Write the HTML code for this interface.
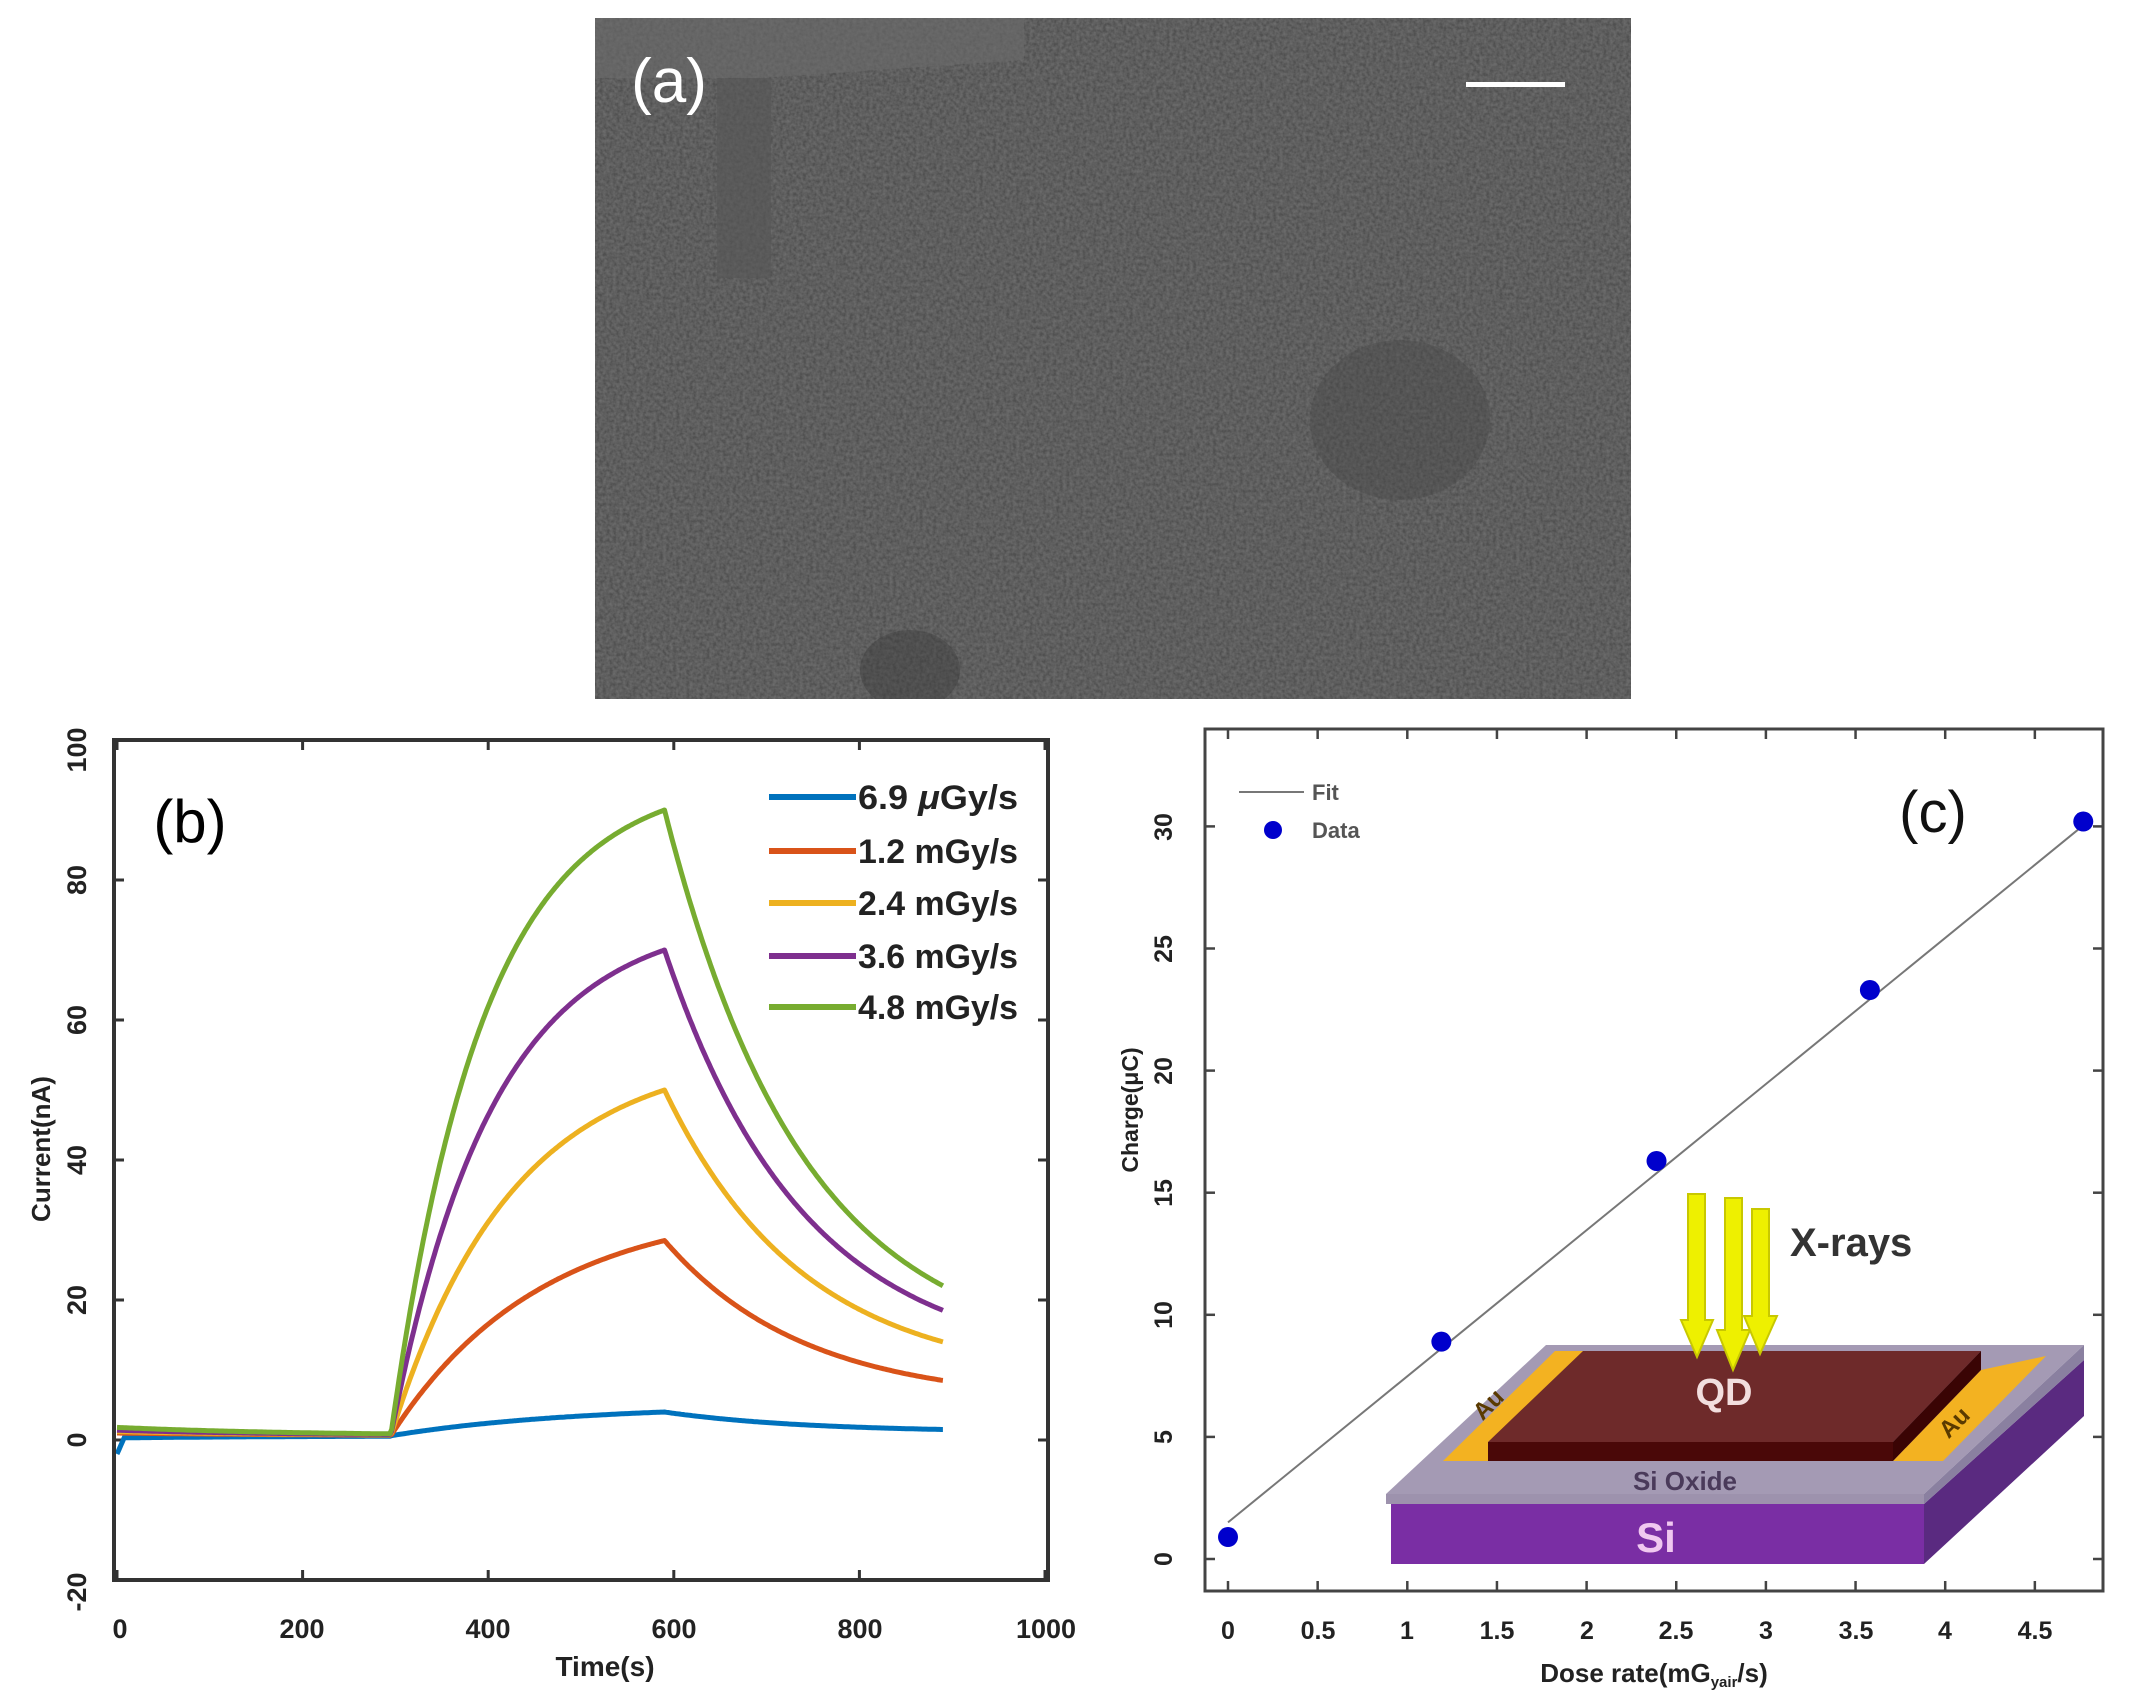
<!DOCTYPE html>
<html><head><meta charset="utf-8"><style>
html,body{margin:0;padding:0;background:#fff;}
svg{display:block;}
text{font-family:"Liberation Sans",sans-serif;}
</style></head><body>
<svg id="s" width="2132" height="1705" viewBox="0 0 2132 1705" xmlns="http://www.w3.org/2000/svg">
<defs>
<filter id="sem" x="0" y="0" width="100%" height="100%">
<feTurbulence type="fractalNoise" baseFrequency="0.3" numOctaves="2" seed="3" result="n"/>
<feColorMatrix in="n" type="matrix" values="0 0 0 0 0.33  0 0 0 0 0.33  0 0 0 0 0.33  0.9 0 0 0 -0.2" result="c"/>
<feComposite in="c" in2="SourceGraphic" operator="over"/>
</filter>
<clipPath id="ca"><rect x="595" y="18" width="1036" height="681"/></clipPath>
</defs>
<!-- panel a -->
<g clip-path="url(#ca)">
<rect x="595" y="18" width="1036" height="681" fill="#4d4d4d"/>
<rect x="595" y="18" width="1036" height="681" fill="#525252" filter="url(#sem)" opacity="0.6"/>
<polygon points="595,18 1024,18 1024,60 760,78 595,78" fill="#6a6a6a" opacity="0.6"/>
<rect x="717" y="78" width="54" height="200" fill="#575757" opacity="0.6"/>
<ellipse cx="1400" cy="420" rx="90" ry="80" fill="#454545" opacity="0.35"/>
<ellipse cx="910" cy="670" rx="50" ry="40" fill="#3a3a3a" opacity="0.4"/>
</g>
<text x="669" y="102" font-size="62" fill="#fff" text-anchor="middle">(a)</text>
<rect x="1466" y="82" width="99" height="5" fill="#fff"/>

<!-- panel b -->
<g id="pb"></g>
<rect x="114" y="740" width="934" height="840" fill="none" stroke="#333" stroke-width="4"/>
<text x="190" y="842" font-size="60" text-anchor="middle">(b)</text>
<g font-weight="bold" font-size="27" fill="#222">
<text transform="translate(86,750) rotate(-90)" text-anchor="middle">100</text>
<text transform="translate(86,880) rotate(-90)" text-anchor="middle">80</text>
<text transform="translate(86,1020) rotate(-90)" text-anchor="middle">60</text>
<text transform="translate(86,1160) rotate(-90)" text-anchor="middle">40</text>
<text transform="translate(86,1300) rotate(-90)" text-anchor="middle">20</text>
<text transform="translate(86,1440) rotate(-90)" text-anchor="middle">0</text>
<text transform="translate(86,1592) rotate(-90)" text-anchor="middle">-20</text>
<text x="120" y="1638" text-anchor="middle">0</text>
<text x="302" y="1638" text-anchor="middle">200</text>
<text x="488" y="1638" text-anchor="middle">400</text>
<text x="674" y="1638" text-anchor="middle">600</text>
<text x="860" y="1638" text-anchor="middle">800</text>
<text x="1046" y="1638" text-anchor="middle">1000</text>
<text x="605" y="1676" text-anchor="middle" font-size="28">Time(s)</text>
<text transform="translate(50,1149) rotate(-90)" text-anchor="middle" font-size="26">Current(nA)</text>
</g>
<g font-weight="bold" font-size="34" fill="#222" stroke-width="6">
<line x1="769" y1="797" x2="856" y2="797" stroke="#0072BD"/><text x="858" y="809" textLength="160" lengthAdjust="spacingAndGlyphs">6.9 <tspan font-style="italic">μ</tspan>Gy/s</text>
<line x1="769" y1="851" x2="856" y2="851" stroke="#D95319"/><text x="858" y="863" textLength="160" lengthAdjust="spacingAndGlyphs">1.2 mGy/s</text>
<line x1="769" y1="903" x2="856" y2="903" stroke="#EDB120"/><text x="858" y="915" textLength="160" lengthAdjust="spacingAndGlyphs">2.4 mGy/s</text>
<line x1="769" y1="956" x2="856" y2="956" stroke="#7E2F8E"/><text x="858" y="968" textLength="160" lengthAdjust="spacingAndGlyphs">3.6 mGy/s</text>
<line x1="769" y1="1007" x2="856" y2="1007" stroke="#77AC30"/><text x="858" y="1019" textLength="160" lengthAdjust="spacingAndGlyphs">4.8 mGy/s</text>
</g>

<!-- panel c -->
<rect x="1205" y="729" width="898" height="862" fill="none" stroke="#444" stroke-width="3"/>
<g id="pc"></g>
<!-- inset -->
<polygon points="1924,1504 2084,1360 2084,1416 1924,1564" fill="#5a2a80"/>
<polygon points="1386,1494 1546,1345 2084,1345 1924,1494" fill="#a49ab4"/>
<rect x="1386" y="1494" width="538" height="10" fill="#9d92ad"/>
<polygon points="1924,1494 2084,1345 2084,1360 1924,1504" fill="#8a80a0"/>
<rect x="1391" y="1504" width="533" height="60" fill="#7a2ea4"/>
<polygon points="1443,1461 1555,1351 1595,1351 1488,1461" fill="#f3b221"/>
<polygon points="1893,1461 1981,1370 2046,1356 1943,1461" fill="#f3b221"/>
<polygon points="1488,1442 1583,1351 1981,1351 1893,1442" fill="#6e2a2a"/>
<rect x="1488" y="1442" width="405" height="19" fill="#4a0808"/>
<polygon points="1893,1442 1981,1351 1981,1370 1893,1461" fill="#3a0404"/>
<g fill="#eef000" stroke="#c8c800" stroke-width="2">
<polygon points="1688,1194 1705,1194 1705,1320 1713,1320 1697,1357 1681,1320 1688,1320"/>
<polygon points="1725,1198 1742,1198 1742,1330 1750,1330 1733,1370 1717,1330 1725,1330"/>
<polygon points="1752,1209 1769,1209 1769,1316 1777,1316 1760,1354 1744,1316 1752,1316"/>
</g>
<g font-weight="bold">
<text x="1790" y="1256" font-size="40" fill="#333">X-rays</text>
<text x="1724" y="1405" font-size="38" fill="#f2dede" text-anchor="middle">QD</text>
<text x="1685" y="1490" font-size="26" fill="#4a3a5a" text-anchor="middle">Si Oxide</text>
<text x="1656" y="1552" font-size="42" fill="#f0c8f0" text-anchor="middle">Si</text>
<text transform="translate(1494,1410) rotate(-45)" font-size="24" fill="#5a3a00" text-anchor="middle">Au</text>
<text transform="translate(1960,1428) rotate(-45)" font-size="24" fill="#5a3a00" text-anchor="middle">Au</text>
</g>
<line x1="1239" y1="792" x2="1304" y2="792" stroke="#777" stroke-width="2"/>
<text x="1312" y="800" font-size="22" font-weight="bold" fill="#555">Fit</text>
<circle cx="1273" cy="830" r="9" fill="#0000cc"/>
<text x="1312" y="838" font-size="22" font-weight="bold" fill="#555">Data</text>
<text x="1933" y="832" font-size="58" text-anchor="middle" fill="#111">(c)</text>
<g font-weight="bold" font-size="25" fill="#222">
<text transform="translate(1172,1559) rotate(-90)" text-anchor="middle">0</text>
<text transform="translate(1172,1437) rotate(-90)" text-anchor="middle">5</text>
<text transform="translate(1172,1315) rotate(-90)" text-anchor="middle">10</text>
<text transform="translate(1172,1193) rotate(-90)" text-anchor="middle">15</text>
<text transform="translate(1172,1071) rotate(-90)" text-anchor="middle">20</text>
<text transform="translate(1172,949) rotate(-90)" text-anchor="middle">25</text>
<text transform="translate(1172,827) rotate(-90)" text-anchor="middle">30</text>
<text transform="translate(1138,1110) rotate(-90)" text-anchor="middle" font-size="23">Charge(μC)</text>
<text x="1228" y="1639" text-anchor="middle">0</text>
<text x="1318" y="1639" text-anchor="middle">0.5</text>
<text x="1407" y="1639" text-anchor="middle">1</text>
<text x="1497" y="1639" text-anchor="middle">1.5</text>
<text x="1587" y="1639" text-anchor="middle">2</text>
<text x="1676" y="1639" text-anchor="middle">2.5</text>
<text x="1766" y="1639" text-anchor="middle">3</text>
<text x="1856" y="1639" text-anchor="middle">3.5</text>
<text x="1945" y="1639" text-anchor="middle">4</text>
<text x="2035" y="1639" text-anchor="middle">4.5</text>
<text x="1654" y="1682" text-anchor="middle" font-size="26">Dose rate(mG<tspan font-size="15" dy="5">yair</tspan><tspan dy="-5">/s)</tspan></text>
</g>
</svg>
<script>
(function(){
var NS="http://www.w3.org/2000/svg";
function el(p,t,a){var e=document.createElementNS(NS,t);for(var k in a)e.setAttribute(k,a[k]);p.appendChild(e);return e;}
var pb=document.getElementById('pb'),pc=document.getElementById('pc');
function X(t){return 117+0.928*t;} function Y(v){return 1440-7*v;}
for(var t=0;t<=1000;t+=200){var x=X(t);el(pb,'line',{x1:x,y1:1580,x2:x,y2:1570,stroke:'#333','stroke-width':3});el(pb,'line',{x1:x,y1:740,x2:x,y2:750,stroke:'#333','stroke-width':3});}
for(var v=-20;v<=100;v+=20){var y=Y(v);el(pb,'line',{x1:114,y1:y,x2:124,y2:y,stroke:'#333','stroke-width':3});el(pb,'line',{x1:1048,y1:y,x2:1038,y2:y,stroke:'#333','stroke-width':3});}
var S=[["#0072BD",4,200,1.5,0.3],["#D95319",28.5,160,8.5,1.0],["#EDB120",50,130,14,1.2],["#7E2F8E",70,110,18.5,1.4],["#77AC30",90,100,22,1.8]];
S.forEach(function(s){
 var P=s[1],tau=s[2],E=s[3],b0=s[4];var F=(E-P*0.135)/0.865;
 var A=(P-0.6)/(1-Math.exp(-295/tau));var d="";
 for(var t=0;t<=890;t+=2){var v;
  if(t<295){v=0.6+(b0-0.6)*Math.exp(-t/200); if(s[0]=="#0072BD"&&t<10)v=-2+t*0.3;}
  else if(t<=590){v=0.6+A*(1-Math.exp(-(t-295)/tau));}
  else v=F+(P-F)*Math.exp(-(t-590)/150);
  d+=(d?"L":"M")+X(t).toFixed(1)+","+Y(v).toFixed(1);}
 el(pb,'path',{d:d,fill:'none',stroke:s[0],'stroke-width':5,'stroke-linejoin':'round'});
});
function CX(d){return 1228+179.3*d;} function CY(q){return 1559-24.42*q;}
for(var d=0;d<=4.51;d+=0.5){var x=CX(d);el(pc,'line',{x1:x,y1:1591,x2:x,y2:1581,stroke:'#444','stroke-width':2.5});el(pc,'line',{x1:x,y1:729,x2:x,y2:739,stroke:'#444','stroke-width':2.5});}
for(var q=0;q<=30;q+=5){var y=CY(q);el(pc,'line',{x1:1205,y1:y,x2:1215,y2:y,stroke:'#444','stroke-width':2.5});el(pc,'line',{x1:2103,y1:y,x2:2093,y2:y,stroke:'#444','stroke-width':2.5});}
el(pc,'line',{x1:CX(0),y1:CY(1.5),x2:CX(4.78),y2:CY(30.1),stroke:'#777','stroke-width':2});
[[0,0.9],[1.19,8.9],[2.39,16.3],[3.58,23.3],[4.77,30.2]].forEach(function(p){el(pc,'circle',{cx:CX(p[0]),cy:CY(p[1]),r:10,fill:'#0000cc'});});
})();
</script>
</body></html>
